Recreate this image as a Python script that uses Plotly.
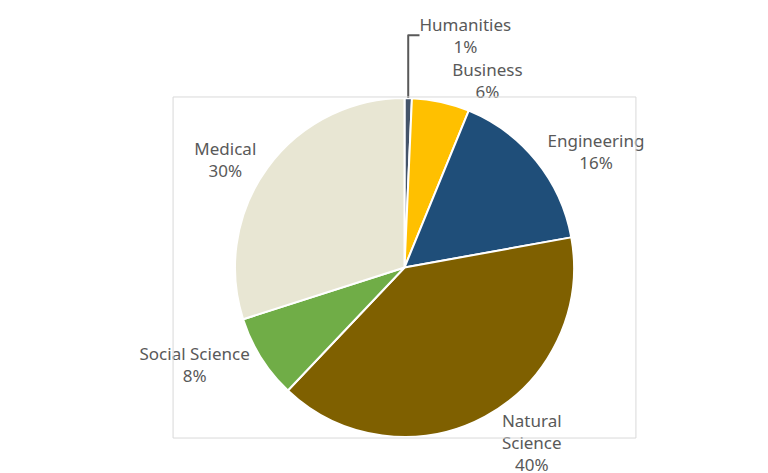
import plotly.graph_objects as go

labels = ["Humanities", "Business", "Engineering", "Natural<br>Science", "Social Science", "Medical"]
values = [0.7, 5.5, 16, 40, 8, 30]
shown = ["1%", "6%", "16%", "40%", "8%", "30%"]
colors = ["#44546A", "#FFC000", "#1F4E79", "#7F6000", "#70AD47", "#E8E6D3"]

fig = go.Figure(go.Pie(
    labels=labels,
    values=values,
    text=shown,
    sort=False,
    direction="clockwise",
    rotation=0,
    domain=dict(x=[0.0, 1.0], y=[0.0, 1.0]),
    marker=dict(colors=colors, line=dict(color="white", width=2)),
    texttemplate="%{label}<br>%{text}",
    textposition="outside",
    textfont=dict(family="Noto Sans", size=17, color="#595959"),
    showlegend=False,
))

fig.update_layout(
    width=768, height=473,
    margin=dict(l=2, r=2, t=2, b=2),
    paper_bgcolor="white",
    shapes=[dict(type="rect", xref="paper", yref="paper", x0=-0.002, x1=1.002, y0=-0.003, y1=1.003,
                 line=dict(color="#D9D9D9", width=1))],
)

fig.write_html("out.html")
